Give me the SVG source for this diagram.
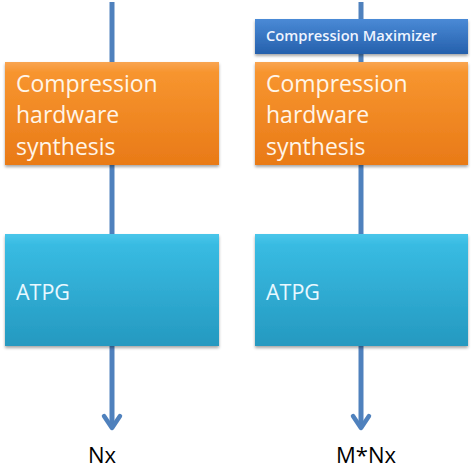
<svg xmlns="http://www.w3.org/2000/svg" width="474" height="474" viewBox="0 0 474 474">
<defs>
<linearGradient id="gOr" x1="0" y1="0" x2="0" y2="1"><stop offset="0" stop-color="#f9a552"/><stop offset="0.1" stop-color="#f7952f"/><stop offset="1" stop-color="#e97a17"/></linearGradient>
<linearGradient id="gCy" x1="0" y1="0" x2="0" y2="1"><stop offset="0" stop-color="#49c6ea"/><stop offset="0.1" stop-color="#38bbe2"/><stop offset="1" stop-color="#2599c0"/></linearGradient>
<linearGradient id="gBl" x1="0" y1="0" x2="0" y2="1"><stop offset="0" stop-color="#4a8ad6"/><stop offset="1" stop-color="#2560ac"/></linearGradient>
<filter id="sh" x="-5%" y="-10%" width="110%" height="125%"><feDropShadow dx="0" dy="2" stdDeviation="1.5" flood-color="#000" flood-opacity="0.35"/></filter>
<style>
.ln{stroke:#4f81bd;stroke-width:5;fill:none}
.ah{stroke:#4f81bd;stroke-width:4.5;fill:none;stroke-linejoin:round;stroke-linecap:round}
.t{font-family:"Open Sans","Liberation Sans",sans-serif;fill:#fff5e8}
.big{font-size:23px}
.at{font-family:"Open Sans","Liberation Sans",sans-serif;font-size:21.5px;fill:#e8f8ff}
.cm{font-family:"Open Sans","Liberation Sans",sans-serif;font-size:14.7px;font-weight:600;fill:#eef4ff}
.lbl{font-family:"Open Sans","Liberation Sans",sans-serif;font-size:22px;fill:#000}
</style>
</defs>
<g id="connectors">
<line class="ln" x1="112" y1="2" x2="112" y2="62"/>
<line class="ln" x1="112" y1="165" x2="112" y2="234"/>
<line class="ln" x1="112" y1="346" x2="112" y2="427"/>
<path class="ah" d="M104,416 L112,428 L120,416"/>
<line class="ln" x1="361" y1="2" x2="361" y2="19"/>
<line class="ln" x1="361" y1="54" x2="361" y2="62"/>
<line class="ln" x1="361" y1="165" x2="361" y2="234"/>
<line class="ln" x1="361" y1="346" x2="361" y2="427"/>
<path class="ah" d="M353,416 L361,428 L369,416"/>
</g>
<g id="comp-left">
<rect x="5" y="62" width="214" height="103" fill="url(#gOr)" filter="url(#sh)"/>
<text class="t big" x="16" y="92">Compression</text>
<text class="t big" x="16" y="123">hardware</text>
<text class="t big" x="16" y="155">synthesis</text>
</g>
<g id="atpg-left">
<rect x="5" y="234" width="214" height="112" fill="url(#gCy)" filter="url(#sh)"/>
<text class="at" x="16" y="300">ATPG</text>
</g>
<g id="maximizer">
<rect x="255" y="19" width="213" height="35" fill="url(#gBl)" filter="url(#sh)"/>
<text class="cm" x="266" y="41">Compression Maximizer</text>
</g>
<g id="comp-right">
<rect x="255" y="62" width="213" height="103" fill="url(#gOr)" filter="url(#sh)"/>
<text class="t big" x="266" y="92">Compression</text>
<text class="t big" x="266" y="123">hardware</text>
<text class="t big" x="266" y="155">synthesis</text>
</g>
<g id="atpg-right">
<rect x="255" y="234" width="213" height="112" fill="url(#gCy)" filter="url(#sh)"/>
<text class="at" x="266" y="300">ATPG</text>
</g>
<g id="labels">
<text class="lbl" x="88" y="463">Nx</text>
<text class="lbl" x="336" y="463">M*Nx</text>
</g>
</svg>
